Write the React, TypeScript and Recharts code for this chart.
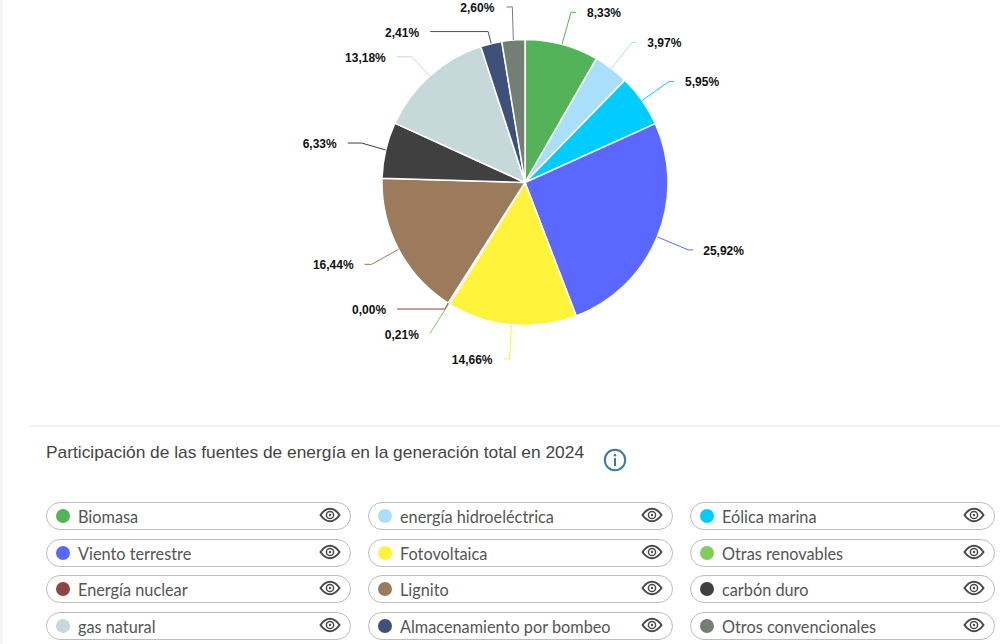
import React from "react";
import { PieChart, Pie, Cell } from "recharts";

const categories = [
	"Biomasa",
	"energía hidroeléctrica",
	"Eólica marina",
	"Viento terrestre",
	"Fotovoltaica",
	"Otras renovables",
	"Energía nuclear",
	"Lignito",
	"carbón duro",
	"gas natural",
	"Almacenamiento por bombeo",
	"Otros convencionales",
];
const shares = [8.33, 3.97, 5.95, 25.92, 14.66, 0.21, 0, 16.44, 6.33, 13.18, 2.41, 2.6];
const colors = [
	"#54b358",
	"#aadffc",
	"#00ccff",
	"#5a68ff",
	"#fff33b",
	"#80cc5c",
	"#8f4444",
	"#9c7b5c",
	"#404040",
	"#c6d8d9",
	"#3f5179",
	"#747f73",
];

const chartData = categories.map((name, i) => ({ name, value: shares[i] }));

// connector route for each slice, relative to the point on the pie edge:
// elbow dx, elbow dy, end dx, text dx from the end of the line
const connectors = [
	[9, -32, 14, 11],
	[21, -26, 25, 11],
	[27, -19, 32, 11],
	[31, 13, 36, 10],
	[-2, 34, -8, -11],
	[-19, 30, -19, -11],
	[-3, 6, -51, -11],
	[-27, 15, -34, -11],
	[-24, -7, -38, -11],
	[-18, -19, -33, -11],
	[-3, -12, -61, -11],
	[-1, -33, -7, -12],
];

const fmt = (v: number) => v.toFixed(2).replace(".", ",") + "%";

const renderLabel = (props: any) => {
	const { cx, cy, midAngle, outerRadius, index, value } = props;
	const rad = (-midAngle * Math.PI) / 180;
	const x = cx + outerRadius * Math.cos(rad);
	const y = cy + outerRadius * Math.sin(rad);
	const [ex, ey, endX, textX] = connectors[index];
	const tx = x + endX + textX;
	return (
		<g key={index}>
			<polyline
				points={`${x},${y} ${x + ex},${y + ey} ${x + endX},${y + ey}`}
				fill="none"
				stroke={colors[index]}
				strokeWidth={1}
			/>
			<text
				x={tx}
				y={y + ey + 1}
				dominantBaseline="central"
				textAnchor={textX > 0 ? "start" : "end"}
				fontFamily="'Liberation Sans', Arial, sans-serif"
				fontSize={12}
				fontWeight={700}
				fill="#111"
			>
				{fmt(value)}
			</text>
		</g>
	);
};

const Eye = () => (
	<svg width={22} height={16} viewBox="0 0 22 16" style={{ position: "absolute", right: 9, top: 4 }}>
		<path d="M1.5 8 C5 2.8 8 1.8 11 1.8 C14 1.8 17 2.8 20.5 8 C17 13.2 14 14.2 11 14.2 C8 14.2 5 13.2 1.5 8 Z" fill="none" stroke="#4a4a4a" strokeWidth={2} />
		<circle cx={11} cy={8} r={3.6} fill="none" stroke="#4a4a4a" strokeWidth={1.5} />
		<circle cx={11} cy={8} r={1.2} fill="#4a4a4a" />
	</svg>
);

const InfoIcon = () => (
	<svg width={24} height={24} viewBox="0 0 24 24" style={{ position: "absolute", left: 603, top: 448 }}>
		<circle cx={12} cy={12} r={10.2} fill="none" stroke="#3f7a9e" strokeWidth={2} />
		<circle cx={12} cy={7.2} r={1.3} fill="#3f7a9e" />
		<rect x={11} y={10} width={2} height={8} fill="#3f7a9e" />
	</svg>
);

const colLeft = [46, 368, 690];
const rowTop = [502, 539, 575, 612];

const App = () => (
	<div style={{ position: "absolute", left: 0, top: 0, width: 1000, height: 644, background: "#fff", overflow: "hidden" }}>
		<div style={{ position: "absolute", left: 0, top: 0, width: 3, height: 644, background: "#f4f4f4" }} />
		<div style={{ position: "absolute", left: 0, top: 0 }}>
			<PieChart width={1000} height={420} margin={{ top: 0, right: 0, bottom: 0, left: 0 }}>
				<Pie
					data={chartData}
					dataKey="value"
					nameKey="name"
					cx={525}
					cy={182.5}
					outerRadius={143}
					startAngle={90}
					endAngle={-270}
					stroke="#fff"
					strokeWidth={1.5}
					label={renderLabel}
					labelLine={false}
					isAnimationActive={false}
				>
					{chartData.map((d, i) => (
						<Cell key={d.name} fill={colors[i]} />
					))}
				</Pie>
			</PieChart>
		</div>
		<div style={{ position: "absolute", left: 29, right: 0, top: 425, height: 2, background: "#f2f2f2" }} />
		<div
			style={{
				position: "absolute",
				left: 46,
				top: 442,
				fontFamily: "'Liberation Sans', Arial, sans-serif",
				fontSize: 17.35,
				color: "#444",
				whiteSpace: "nowrap",
			}}
		>
			Participación de las fuentes de energía en la generación total en 2024
		</div>
		<InfoIcon />
		{categories.map((name, i) => (
			<div
				key={name}
				style={{
					position: "absolute",
					left: colLeft[i % 3],
					top: rowTop[Math.floor(i / 3)],
					width: 305,
					height: 28,
					boxSizing: "border-box",
					border: "1px solid #bdbdbd",
					borderRadius: 14,
				}}
			>
				<div style={{ position: "absolute", left: 9, top: 6, width: 14, height: 14, borderRadius: 7, background: colors[i] }} />
				<div
					style={{
						position: "absolute",
						left: 31,
						top: 0,
						lineHeight: "27px",
						fontFamily: "Lato, sans-serif",
						fontSize: 16.3,
						color: "#555",
						whiteSpace: "nowrap",
					}}
				>
					{name}
				</div>
				<Eye />
			</div>
		))}
	</div>
);

export default App;
